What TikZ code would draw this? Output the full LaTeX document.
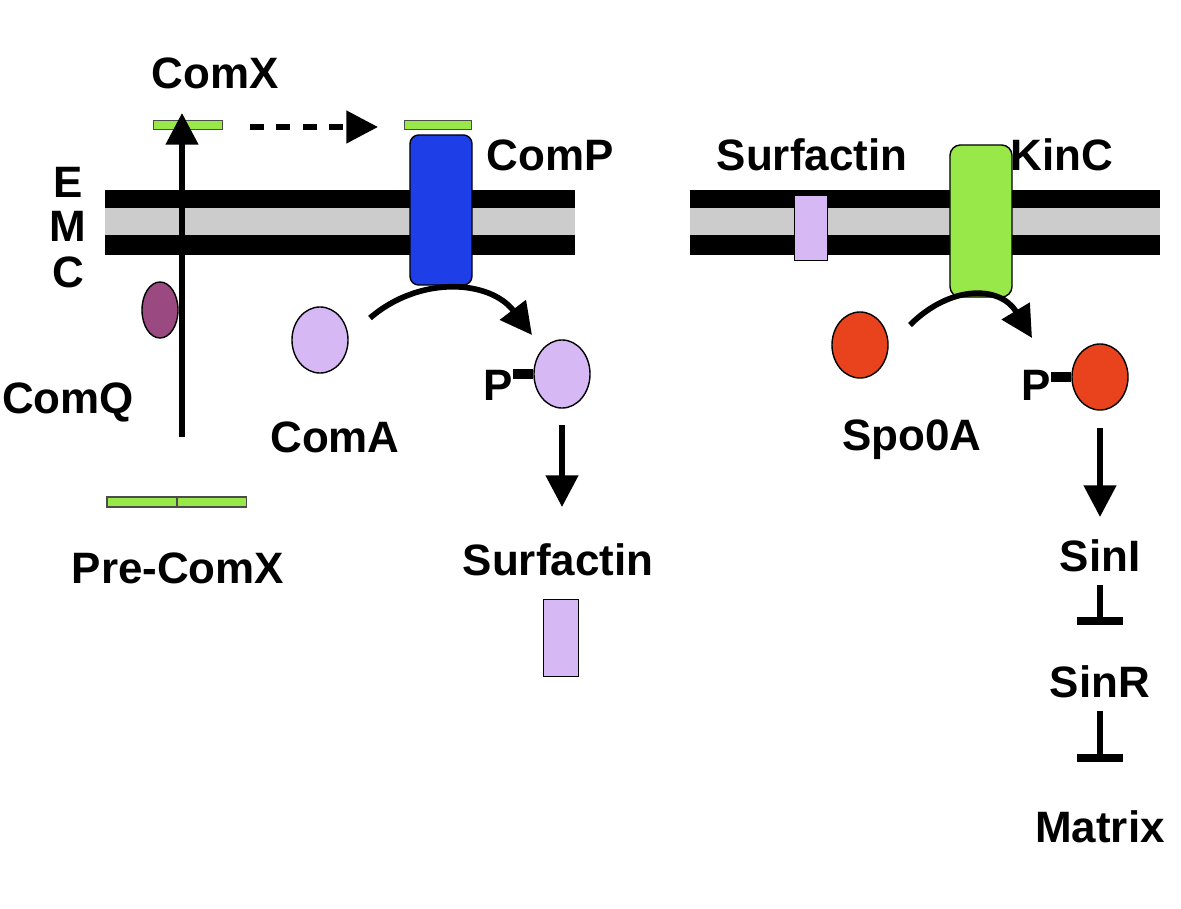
\documentclass[tikz,border=0pt]{standalone}
\usepackage{fontspec}
\setmainfont{Liberation Sans}
\usetikzlibrary{arrows.meta,shapes.geometric}
\definecolor{lila}{HTML}{D6B8F5}
\definecolor{comq}{HTML}{9A4A80}
\definecolor{spo}{HTML}{E8431C}
\definecolor{grn}{HTML}{99E84A}
\definecolor{comp}{HTML}{1E3FE8}
\begin{document}
\begin{tikzpicture}[x=0.01cm,y=-0.01cm,
  lbl/.style={font=\fontsize{12.5}{14}\selectfont\bfseries},
  prot/.style={ellipse,draw,thin,inner sep=0},
  arr/.style={-{Triangle[length=9pt,width=9pt]},line width=1.6pt},
  inh/.style={-{Bar[width=13pt,line width=2.2pt]},line width=1.6pt},
  bar/.style={draw=black!70,fill=grn,thin,inner sep=0}]
\useasboundingbox (0,0) rectangle (1181,909);
% membranes
\foreach \xa/\xb in {105/575,690/1160}{
  \fill[black!20] (\xa,205) rectangle (\xb,238);
  \fill[black] (\xa,190) rectangle (\xb,208);
  \fill[black] (\xa,235) rectangle (\xb,255);
}
\node[lbl] at (68,182) {E};
\node[lbl] at (68,226) {M};
\node[lbl] at (68,272) {C};
% left: ComX system
\node[lbl] (comx) at (215,73) {ComX};
\node[bar,minimum width=0.69cm,minimum height=0.09cm] (cx1) at (188,125) {};
\node[bar,minimum width=0.67cm,minimum height=0.09cm] (cx2) at (438,125) {};
\coordinate (d1) at (250,127);
\coordinate (d2) at (378,127);
\draw[arr,dash pattern=on 4pt off 3.5pt] (d1) -- (d2);
\node[draw,fill=comp,rounded corners=2.5pt,minimum width=0.62cm,minimum height=1.5cm,inner sep=0] (compr) at (441,210) {};
\node[lbl] (compl) at (550,155) {ComP};
\node[bar,minimum width=0.70cm,minimum height=0.10cm] (pre1) at (142,502) {};
\node[bar,minimum width=0.69cm,minimum height=0.10cm] (pre2) at (212,502) {};
\node[lbl] (prel) at (178,568) {Pre-ComX};
\coordinate (up0) at (182,437);
\coordinate (up1) at (182,113);
\draw[arr] (up0) -- (up1);
\node[prot,fill=comq,minimum width=0.36cm,minimum height=0.56cm] (comq) at (160,310) {};
\node[lbl] (comql) at (68,402) {ComQ};
\node[prot,fill=lila,minimum width=0.56cm,minimum height=0.66cm] (coma) at (320,340) {};
\node[lbl] (comal) at (335,437) {ComA};
\node[prot,fill=lila,minimum width=0.56cm,minimum height=0.68cm] (comap) at (562,374) {};
\node[lbl] (p1) at (498,385) {P};
\draw[line width=2.6pt] (comap.west) -- ++(-20,0);
\coordinate (a1) at (370,318);
\coordinate (a2) at (532,335);
\draw[arr] (a1) .. controls (420,275) and (490,280) .. (a2);
\coordinate (s0) at (562,425);
\coordinate (s1) at (562,507);
\draw[arr] (s0) -- (s1);
\node[lbl] (surfl) at (558,560) {Surfactin};
\node[draw,fill=lila,minimum width=0.35cm,minimum height=0.77cm,inner sep=0] (surf) at (561,638) {};
% right: KinC system
\node[lbl] (surf2l) at (812,155) {Surfactin};
\node[draw,fill=lila,minimum width=0.33cm,minimum height=0.65cm,inner sep=0] (surf2) at (811,228) {};
\node[draw,fill=grn,rounded corners=3pt,minimum width=0.62cm,minimum height=1.52cm,inner sep=0] (kinc) at (981,221) {};
\node[lbl] (kincl) at (1062,155) {KinC};
\node[prot,fill=spo,minimum width=0.56cm,minimum height=0.66cm] (spo) at (860,345) {};
\node[lbl] (spol) at (912,440) {Spo0A};
\node[prot,fill=spo,minimum width=0.56cm,minimum height=0.66cm] (spop) at (1100,377) {};
\node[lbl] (p2) at (1036,385) {P};
\draw[line width=2.6pt] (spop.west) -- ++(-20,0);
\coordinate (b1) at (910,325);
\coordinate (b2) at (1032,338);
\draw[arr] (b1) .. controls (950,285) and (1000,285) .. (b2);
\coordinate (c0) at (1100,428);
\coordinate (c1) at (1100,517);
\draw[arr] (c0) -- (c1);
\node[lbl] (sini) at (1100,556) {SinI};
\node[lbl] (sinr) at (1100,682) {SinR};
\node[lbl] (matrix) at (1100,827) {Matrix};
\draw[inh] (sini.south) -- (1100,625);
\draw[inh] (sinr.south) -- (1100,762);
\end{tikzpicture}
\end{document}
